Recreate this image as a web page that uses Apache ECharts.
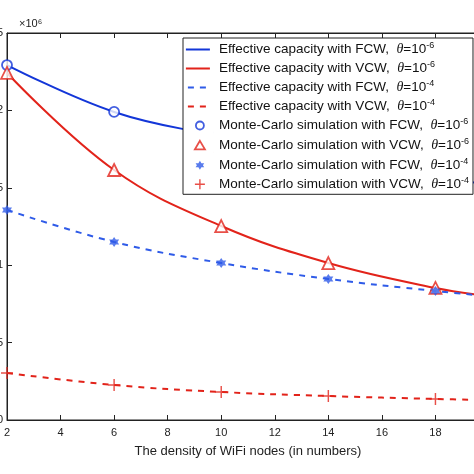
<!DOCTYPE html>
<html><head><meta charset="utf-8">
<script src="https://cdn.jsdelivr.net/npm/echarts@6/dist/echarts.min.js"></script>
<style>html,body{margin:0;padding:0;background:#fff}#c{width:474px;height:474px}</style>
</head><body><div id="c"></div>
<script>
const xLine = [2, 6, 10, 14, 18, 20];
const xSim = [2, 6, 10, 14, 18];
const fcw6 = [2.293, 1.990, 1.83, 1.68, 1.57, 1.52];
const vcw6 = [2.242, 1.615, 1.253, 1.014, 0.853, 0.801];
const fcw4 = [1.357, 1.150, 1.014, 0.911, 0.833, 0.800];
const vcw4 = [0.304, 0.226, 0.181, 0.155, 0.136, 0.129];
const simFcw6 = [2.293, 1.990, 1.83, 1.68, 1.57];
const simVcw6 = [2.242, 1.615, 1.253, 1.014, 0.853];
const simFcw4 = [1.357, 1.150, 1.014, 0.911, 0.833];
const simVcw4 = [0.304, 0.226, 0.181, 0.155, 0.136];
const names = [
 'Effective capacity with FCW,  θ=10|-6',
 'Effective capacity with VCW,  θ=10|-6',
 'Effective capacity with FCW,  θ=10|-4',
 'Effective capacity with VCW,  θ=10|-4',
 'Monte-Carlo simulation with FCW,  θ=10|-6',
 'Monte-Carlo simulation with VCW,  θ=10|-6',
 'Monte-Carlo simulation with FCW,  θ=10|-4',
 'Monte-Carlo simulation with VCW,  θ=10|-4'
];
const BLUE = '#1336d8', BLUE2 = '#2f5be8', RED = '#e2231a';
const plus = 'path://M-1.2,-10 H1.2 V-1.2 H10 V1.2 H1.2 V10 H-1.2 V1.2 H-10 V-1.2 H-1.2 Z';
const star = 'path://M0,-10 L3,-5 L8.7,-5 L6,0 L8.7,5 L3,5 L0,10 L-3,5 L-8.7,5 L-6,0 L-8.7,-5 L-3,-5 Z';
const B = 'M0,0 L0.01,0 M28,14 L27.99,14 ';
const icons = [
  'path://' + B + 'M0,6 H24 V8 H0 Z',
  'path://' + B + 'M0,6 H24 V8 H0 Z',
  'path://' + B + 'M2,6 H8 V8 H2 Z M14,6 H20 V8 H14 Z',
  'path://' + B + 'M2,6 H8 V8 H2 Z M14,6 H20 V8 H14 Z',
  'path://' + B + 'M10,7 A4,4 0 1 1 10,7.01 Z',
  'path://' + B + 'M14,2.5 L19,11 L9,11 Z',
  'path://' + B + 'M14,2.5 L15.5,5 L18.3,5 L17,7 L18.3,9 L15.5,9 L14,11.5 L12.5,9 L9.7,9 L11,7 L9.7,5 L12.5,5 Z',
  'path://' + B + 'M13.3,2 H14.7 V6.3 H19 V7.7 H14.7 V12 H13.3 V7.7 H9 V6.3 H13.3 Z'
];
const zip = (xs, ys) => xs.map((x, i) => [x, ys[i]]);
function line(n, d, c, dash) {
  return {name: n, type: 'line', smooth: 0.4, showSymbol: false, symbol: 'none', data: zip(xLine, d),
    lineStyle: {color: c, width: 2, type: dash ? [6, 6] : 'solid'}, itemStyle: {color: c}, z: 2};
}
function sim(n, d, c, sym, size, filled) {
  return {name: n, type: 'scatter', symbol: sym, symbolSize: size, data: zip(xSim, d),
    itemStyle: filled ? {color: c} : {color: '#fff', borderColor: c, borderWidth: 1.8}, z: 3};
}
const cols = [BLUE, RED, BLUE2, RED, BLUE, RED, BLUE2, RED];
const chart = echarts.init(document.getElementById('c'));
const axisCommon = {axisLine: {lineStyle: {color: '#222'}}, axisTick: {inside: true, length: 5, lineStyle: {color: '#222'}}, splitLine: {show: false}};
chart.setOption({
  animation: false,
  textStyle: {fontFamily: 'Liberation Sans, Arial'},
  grid: {left: 7, right: -15, top: 33, bottom: 54, containLabel: false, outerBoundsMode: 'none', show: true, borderColor: '#222', borderWidth: 1},
  xAxis: [
    Object.assign({type: 'value', min: 2, max: 20, interval: 2, name: 'The density of WiFi nodes (in numbers)', nameLocation: 'middle', nameGap: 25,
      nameTextStyle: {fontSize: 13, color: '#222'}, axisLabel: {fontSize: 11, color: '#222', margin: 7, formatter: v => v == 20 ? '' : v}}, axisCommon),
    Object.assign({type: 'value', min: 2, max: 20, interval: 2, position: 'top', axisLabel: {show: false}}, axisCommon)
  ],
  yAxis: Object.assign({type: 'value', min: 0, max: 2.5, interval: 0.5, name: '×10⁶', nameLocation: 'end', nameGap: 4,
    nameTextStyle: {fontSize: 11, color: '#222', align: 'left', padding: [0, 0, 0, 12]},
    axisLabel: {fontSize: 11, color: '#222', margin: 4}}, axisCommon),
  legend: {
    orient: 'vertical', left: 183, top: 38, itemGap: 3.5, itemWidth: 28, itemHeight: 14,
    backgroundColor: '#fff', borderColor: '#222', borderWidth: 1, padding: [3, 4, 3, 2],
    data: names.map((n, i) => ({name: n, icon: icons[i],
      itemStyle: (i == 4 || i == 5) ? {color: '#fff', borderColor: cols[i], borderWidth: 1.8} : {color: cols[i], borderWidth: 0}})),
    formatter: n => { const p = n.split('|'); return p[0].replace('θ', '{i|θ}') + '{s|' + p[1] + '}'; },
    textStyle: {fontSize: 13.5, color: '#111', rich: {i: {fontStyle: 'italic', fontFamily: 'Liberation Serif', fontSize: 14}, s: {fontSize: 9, verticalAlign: 'top', padding: [0, 0, 8, 0]}}}
  },
  series: [
    line(names[0], fcw6, BLUE, false),
    line(names[1], vcw6, RED, false),
    line(names[2], fcw4, BLUE2, true),
    line(names[3], vcw4, RED, true),
    sim(names[4], simFcw6, BLUE, 'circle', 10, false),
    sim(names[5], simVcw6, RED, 'triangle', 12, false),
    sim(names[6], simFcw4, BLUE2, star, 10, true),
    sim(names[7], simVcw4, RED, plus, 12, true)
  ]
});
</script></body></html>
